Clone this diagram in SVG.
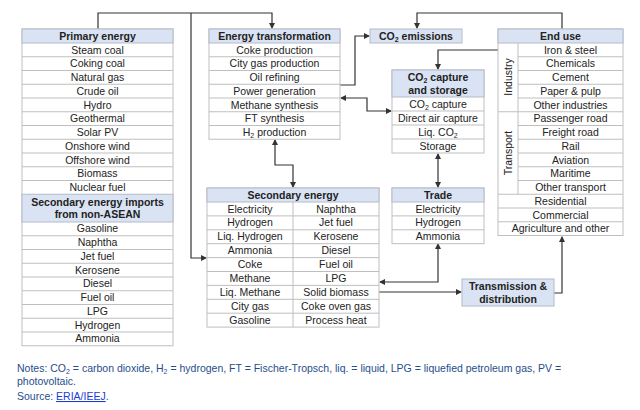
<svg xmlns="http://www.w3.org/2000/svg" width="640" height="410" viewBox="0 0 640 410">
<style>
text{font-family:"Liberation Sans",Arial,sans-serif;font-size:10.5px;fill:#222;text-anchor:middle}
.h{font-weight:bold}
.hd{fill:#dae3f3;stroke:#b4bcc8;stroke-width:1}
.bx{fill:#fff;stroke:#bfbfbf;stroke-width:1}
.ln{stroke:#bfbfbf;stroke-width:1}
.c{fill:none;stroke:#333;stroke-width:1.2}
.n{fill:#1f4e8c;text-anchor:start;font-size:10.5px}
sub{font-size:7px}
</style>
<defs>
<marker id="a" viewBox="0 0 6 6" refX="5" refY="3" markerWidth="5" markerHeight="5" orient="auto-start-reverse"><path d="M0,0L6,3L0,6z" fill="#333"/></marker>
</defs>
<g id="connectors">
<path class="c" d="M98,29V13H272V28" marker-end="url(#a)"/>
<path class="c" d="M191,13V258H206" marker-end="url(#a)"/>
<path class="c" d="M275,140V165H293V187" marker-start="url(#a)" marker-end="url(#a)"/>
<path class="c" d="M340,85H355V36H369" marker-end="url(#a)"/>
<path class="c" d="M341,98H367V111H391" marker-start="url(#a)" marker-end="url(#a)"/>
<path class="c" d="M438,154V187" marker-start="url(#a)" marker-end="url(#a)"/>
<path class="c" d="M438,244V282H380" marker-start="url(#a)" marker-end="url(#a)"/>
<path class="c" d="M379,292H461" marker-end="url(#a)"/>
<path class="c" d="M554,293H562V237" marker-end="url(#a)"/>
<path class="c" d="M562,29V13H417V28" marker-end="url(#a)"/>
<path class="c" d="M537,50H438V69" marker-end="url(#a)"/>
</g>
<g id="primary">
<rect class="bx" x="22" y="29" width="151" height="316.75"/>
<rect class="hd" x="22" y="29" width="151" height="14"/>
<text class="h" x="97.5" y="40">Primary energy</text>
<path class="ln" d="M22,56.75H173M22,70.5H173M22,84.25H173M22,98H173M22,111.75H173M22,125.5H173M22,139.25H173M22,153H173M22,166.75H173M22,180.5H173"/>
<text x="97.5" y="53.5">Steam coal</text>
<text x="97.5" y="67.25">Coking coal</text>
<text x="97.5" y="81">Natural gas</text>
<text x="97.5" y="94.75">Crude oil</text>
<text x="97.5" y="108.5">Hydro</text>
<text x="97.5" y="122.25">Geothermal</text>
<text x="97.5" y="136">Solar PV</text>
<text x="97.5" y="149.75">Onshore wind</text>
<text x="97.5" y="163.5">Offshore wind</text>
<text x="97.5" y="177.25">Biomass</text>
<text x="97.5" y="191">Nuclear fuel</text>
</g>
<g id="imports">
<rect class="hd" x="22" y="194.25" width="151" height="27.75"/>
<text class="h" x="97.5" y="205.5">Secondary energy imports</text>
<text class="h" x="97.5" y="218">from non-ASEAN</text>
<path class="ln" d="M22,235.75H173M22,249.5H173M22,263.25H173M22,277H173M22,290.75H173M22,304.5H173M22,318.25H173M22,332H173"/>
<text x="97.5" y="232.4">Gasoline</text>
<text x="97.5" y="246.1">Naphtha</text>
<text x="97.5" y="259.9">Jet fuel</text>
<text x="97.5" y="273.6">Kerosene</text>
<text x="97.5" y="287.4">Diesel</text>
<text x="97.5" y="301.1">Fuel oil</text>
<text x="97.5" y="314.9">LPG</text>
<text x="97.5" y="328.6">Hydrogen</text>
<text x="97.5" y="342.4">Ammonia</text>
</g>
<g id="transformation">
<rect class="bx" x="209" y="29" width="131" height="110.25"/>
<rect class="hd" x="209" y="29" width="131" height="14"/>
<text class="h" x="274.5" y="40">Energy transformation</text>
<path class="ln" d="M209,56.75H340M209,70.5H340M209,84.25H340M209,98H340M209,111.75H340M209,125.5H340"/>
<text x="274.5" y="53.5">Coke production</text>
<text x="274.5" y="67.25">City gas production</text>
<text x="274.5" y="81">Oil refining</text>
<text x="274.5" y="94.75">Power generation</text>
<text x="274.5" y="108.5">Methane synthesis</text>
<text x="274.5" y="122.25">FT synthesis</text>
<text x="274.5" y="136">H<tspan font-size="7" dy="2">2</tspan><tspan dy="-2"> production</tspan></text>
</g>
<g id="emissions">
<rect class="hd" x="370" y="29" width="92" height="14"/>
<text class="h" x="416" y="40">CO<tspan font-size="7" dy="2">2</tspan><tspan dy="-2"> emissions</tspan></text>
</g>
<g id="capture">
<rect class="bx" x="392" y="70" width="92" height="83"/>
<rect class="hd" x="392" y="70" width="92" height="27"/>
<text class="h" x="438" y="81">CO<tspan font-size="7" dy="2">2</tspan><tspan dy="-2"> capture</tspan></text>
<text class="h" x="438" y="93.5">and storage</text>
<path class="ln" d="M392,111H484M392,125H484M392,139H484"/>
<text x="438" y="107.5">CO<tspan font-size="7" dy="2">2</tspan><tspan dy="-2"> capture</tspan></text>
<text x="438" y="121.5">Direct air capture</text>
<text x="438" y="135.5">Liq. CO<tspan font-size="7" dy="2">2</tspan></text>
<text x="438" y="149.5">Storage</text>
</g>
<g id="enduse">
<rect class="bx" x="498" y="29" width="125" height="206.5"/>
<rect class="hd" x="498" y="29" width="125" height="14"/>
<text class="h" x="560.5" y="40">End use</text>
<path class="ln" d="M518,43V194.25M518,56.75H623M518,70.5H623M518,84.25H623M518,98H623M498,111.75H623M518,125.5H623M518,139.25H623M518,153H623M518,166.75H623M518,180.5H623M498,194.25H623M498,208H623M498,221.75H623"/>
<text transform="translate(511.5,77) rotate(-90)">Industry</text>
<text transform="translate(511.5,153) rotate(-90)">Transport</text>
<text x="570.5" y="53.5">Iron &amp; steel</text>
<text x="570.5" y="67.25">Chemicals</text>
<text x="570.5" y="81">Cement</text>
<text x="570.5" y="94.75">Paper &amp; pulp</text>
<text x="570.5" y="108.5">Other industries</text>
<text x="570.5" y="122.25">Passenger road</text>
<text x="570.5" y="136">Freight road</text>
<text x="570.5" y="149.75">Rail</text>
<text x="570.5" y="163.5">Aviation</text>
<text x="570.5" y="177.25">Maritime</text>
<text x="570.5" y="191">Other transport</text>
<text x="560.5" y="204.75">Residential</text>
<text x="560.5" y="218.5">Commercial</text>
<text x="560.5" y="232.25">Agriculture and other</text>
</g>
<g id="secondary">
<rect class="bx" x="207" y="188" width="172" height="139.1"/>
<rect class="hd" x="207" y="188" width="172" height="14"/>
<text class="h" x="293" y="199">Secondary energy</text>
<path class="ln" d="M293,202V327.1M207,215.9H379M207,229.8H379M207,243.7H379M207,257.6H379M207,271.5H379M207,285.4H379M207,299.3H379M207,313.2H379"/>
<text x="250" y="212.5">Electricity</text><text x="336" y="212.5">Naphtha</text>
<text x="250" y="226.4">Hydrogen</text><text x="336" y="226.4">Jet fuel</text>
<text x="250" y="240.3">Liq. Hydrogen</text><text x="336" y="240.3">Kerosene</text>
<text x="250" y="254.2">Ammonia</text><text x="336" y="254.2">Diesel</text>
<text x="250" y="268.1">Coke</text><text x="336" y="268.1">Fuel oil</text>
<text x="250" y="282">Methane</text><text x="336" y="282">LPG</text>
<text x="250" y="295.9">Liq. Methane</text><text x="336" y="295.9">Solid biomass</text>
<text x="250" y="309.8">City gas</text><text x="336" y="309.8">Coke oven gas</text>
<text x="250" y="323.7">Gasoline</text><text x="336" y="323.7">Process heat</text>
</g>
<g id="trade">
<rect class="bx" x="392" y="188" width="92" height="55.7"/>
<rect class="hd" x="392" y="188" width="92" height="14"/>
<text class="h" x="438" y="199">Trade</text>
<path class="ln" d="M392,215.9H484M392,229.8H484"/>
<text x="438" y="212.5">Electricity</text>
<text x="438" y="226.4">Hydrogen</text>
<text x="438" y="240.3">Ammonia</text>
</g>
<g id="transmission">
<rect class="hd" x="462" y="279" width="92" height="27"/>
<text class="h" x="508" y="290">Transmission &amp;</text>
<text class="h" x="508" y="302.5">distribution</text>
</g>
<g id="notes">
<text class="n" x="17" y="372">Notes: CO<tspan font-size="7" dy="2">2</tspan><tspan dy="-2"> = carbon dioxide, H</tspan><tspan font-size="7" dy="2">2</tspan><tspan dy="-2"> = hydrogen, FT = Fischer-Tropsch, liq. = liquid, LPG = liquefied petroleum gas, PV =</tspan></text>
<text class="n" x="17" y="385">photovoltaic.</text>
<text class="n" x="17" y="400">Source: <tspan fill="#1a3cd6" text-decoration="underline">ERIA/IEEJ</tspan>.</text>
</g>
</svg>
